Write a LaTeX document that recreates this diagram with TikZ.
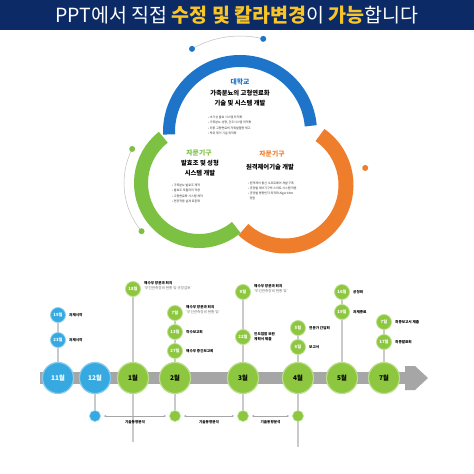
\documentclass[tikz,border=0pt]{standalone}
\usepackage{fontspec}
\setmainfont{Noto Sans CJK KR}
\usetikzlibrary{arrows.meta}
\usetikzlibrary{backgrounds}
\definecolor{navy}{HTML}{0B2A66}
\definecolor{gold}{HTML}{F8C426}
\definecolor{ringblue}{HTML}{1E74C8}
\definecolor{ringgreen}{HTML}{7CC142}
\definecolor{ringorange}{HTML}{EE7D2C}
\definecolor{dotblue}{HTML}{36A9E1}
\definecolor{dotgreen}{HTML}{8DC63F}
\definecolor{bargray}{HTML}{A6A6A6}
\definecolor{stemgray}{HTML}{CACACA}
\tikzstyle{headline}=[inner sep=0pt, text=white, font=\fontsize{19.5}{21}\selectfont]
\tikzstyle{ring head}=[inner sep=0pt, font=\fontsize{6.8}{7}\selectfont\bfseries]
\tikzstyle{ring task}=[inner sep=0pt, align=center, font=\fontsize{6.3}{10}\selectfont\bfseries]
\tikzstyle{ring list}=[inner sep=0pt, anchor=west, align=left, text=black!80, font=\fontsize{3}{5.5}\selectfont]
\tikzstyle{deco line}=[draw=black!25, line width=0.5pt]
\tikzstyle{deco dot}=[circle, minimum size=6pt, inner sep=0pt]
\tikzstyle{month}=[circle, minimum size=31pt, inner sep=0pt, line width=1.2pt, font=\fontsize{6.5}{7}\selectfont\bfseries]
\tikzstyle{blue month}=[month, fill=dotblue, draw=dotblue!60!white, text=white]
\tikzstyle{green month}=[month, fill=dotgreen, draw=dotgreen!60!white, text=black]
\tikzstyle{day}=[circle, minimum size=15pt, inner sep=0pt, line width=0.8pt, text=white, font=\fontsize{4.3}{5}\selectfont\bfseries]
\tikzstyle{blue day}=[day, fill=dotblue, draw=dotblue!55!white]
\tikzstyle{green day}=[day, fill=dotgreen, draw=dotgreen!55!white]
\tikzstyle{tick dot}=[circle, minimum size=11pt, inner sep=0pt, line width=0.6pt]
\tikzstyle{event}=[anchor=west, inner sep=0pt, align=left, font=\fontsize{3.6}{5}\selectfont\bfseries]
\tikzstyle{stem line}=[draw=stemgray, line width=1.2pt]
\tikzstyle{span arrow}=[draw=black!35, line width=0.4pt, {Stealth[length=2.5pt,width=2pt]}-{Stealth[length=2.5pt,width=2pt]}, shorten <=3pt, shorten >=3pt]
\tikzstyle{span label}=[inner sep=0pt, font=\fontsize{3.6}{4}\selectfont\bfseries]
\newcommand{\quoteline}[1]{\textcolor{black!55}{\mdseries #1}}

\begin{document}
\begin{tikzpicture}[x=1pt, y=-1pt]
  \useasboundingbox (0,0) rectangle (474,474);
  \fill[navy] (0,0) rectangle (474,30);
  \node[headline] (title) at (237,15.5) {PPT에서 직접 \textbf{\color{gold}수정 및 칼라변경}이 \textbf{\color{gold}가능}합니다};

  \coordinate (uni) at (240,132);
  \coordinate (fer) at (199,183);
  \coordinate (rem) at (285,185);
  \draw[ringblue, line width=12pt] (uni) ++(178:71) arc[start angle=178, end angle=355, radius=71];
  \draw[ringgreen, line width=14pt] (fer) ++(232:58) arc[start angle=232, end angle=50, radius=58];
  \draw[ringorange, line width=15pt] (rem) ++(-55:61) arc[start angle=-55, end angle=133, radius=61];
  \draw[deco line] (uni) ++(240:96) arc[start angle=240, end angle=284, radius=96];
  \draw[deco line] (fer) ++(207:75) arc[start angle=207, end angle=140, radius=75];
  \path (uni) ++(240:96) node[deco dot, fill=ringblue] (unidot1) {};
  \path (uni) ++(284:96) node[deco dot, fill=ringblue] (unidot2) {};
  \path (fer) ++(207:75) node[deco dot, fill=ringgreen] (ferdot1) {};
  \path (fer) ++(140:75) node[deco dot, fill=ringgreen] (ferdot2) {};
  \path (rem) ++(-12:82) node[deco dot, fill=ringorange] (remdot) {};

  \node[ring head, text=ringblue] (unihead) at (240,82) {대학교};
  \node[ring task] (unitask) at (240,98) {가축분뇨의 고형연료화\\기술 및 시스템 개발};
  \node[ring list] (unilist) at (208,125.5) {• 초기성 발효 시스템 최적화\\• 가축분뇨 성형, 건조시스템 최적화\\• 최종 고형연료의 저위발열량 제고\\• 악취 제거 기술 최적화};
  \node[ring head, text=ringgreen] (ferhead) at (199,153) {자문기구};
  \node[ring task] (fertask) at (200,168) {발효조 및 성형\\시스템 개발};
  \node[ring list] (ferlist) at (172,193.5) {• 가축분뇨 발효조 제작\\• 발효조 모듈러리 적용\\• 고형연료화 시스템 제작\\• 현장적용 설계 표준화};
  \node[ring head, text=ringorange] (remhead) at (272,154) {자문기구};
  \node[ring task] (remtask) at (270,167) {원격제어기술 개발};
  \node[ring list, font=\fontsize{3}{5}\selectfont] (remlist) at (248,190.5) {• 원격제어 통신 소프트웨어 개발 구축\\• 공정별 제어기구의 스마트 시스템 적용\\• 공정별 영향인자 최적화 Algorithm\\\ \ 정립};

  \node[blue month] (m11) at (58,378) {11월};
  \node[blue month] (m12) at (95,378) {12월};
  \node[green month] (m1) at (133,378) {1월};
  \node[green month] (m2) at (175,378) {2월};
  \node[green month] (m3) at (243,378) {3월};
  \node[green month] (m4) at (298,378) {4월};
  \node[green month] (m5) at (342,378) {5월};
  \node[green month] (m7) at (384,378) {7월};

  \node[blue day] (d11a) at (58,315) {19일};
  \node[blue day] (d11b) at (58,340) {23일};
  \node[green day] (d1a) at (133,289) {18일};
  \node[green day] (d2a) at (175,313) {7일};
  \node[green day] (d2b) at (175,332) {13일};
  \node[green day] (d2c) at (175,351) {27일};
  \node[green day] (d3a) at (243,292) {9일};
  \node[green day] (d3b) at (243,337) {22일};
  \node[green day] (d4a) at (298,328) {5일};
  \node[green day] (d4b) at (298,347) {6일};
  \node[green day] (d5a) at (342,292) {16일};
  \node[green day] (d5b) at (342,312) {19일};
  \node[green day] (d7a) at (384,322) {7일};
  \node[green day] (d7b) at (384,342) {17일};

  \node[event] (l11a) at (69,315) {과제시작};
  \node[event] (l11b) at (69,340) {과제시작};
  \node[event] (l1a) at (144,286) {해수부 방문과 회의\\\quoteline{‘무인관측장비 현황 및 규정검토’}};
  \node[event] (l2a) at (186,310) {해수부 방문과 회의\\\quoteline{‘무인관측장비 현황 및’}};
  \node[event] (l2b) at (186,332) {착수보고회};
  \node[event] (l2c) at (186,351) {해수부 중간보고회};
  \node[event] (l3a) at (254,289) {해수부 방문과 회의\\\quoteline{‘무인관측장비 현황 및’}};
  \node[event] (l3b) at (254,337) {인도접합 보완\\계획서 제출};
  \node[event] (l4a) at (309,328) {전문가 간담회};
  \node[event] (l4b) at (309,347) {보고서};
  \node[event] (l5a) at (353,292) {공청회};
  \node[event] (l5b) at (353,312) {과제종료};
  \node[event] (l7a) at (395,322) {최종보고서 제출};
  \node[event] (l7b) at (395,342) {최종발표회};

  \node[tick dot, fill=dotblue, draw=dotblue!55!white] (t12) at (95,416) {};
  \node[tick dot, fill=dotgreen, draw=dotgreen!55!white] (t2) at (175,416) {};
  \node[tick dot, fill=dotgreen, draw=dotgreen!55!white] (t3) at (243,416) {};
  \node[tick dot, fill=dotgreen, draw=dotgreen!55!white] (t4) at (298,416) {};
  \coordinate (b1) at (133,442);
  \coordinate (b4) at (298,447);

  \draw[span arrow] (t12) -- node[span label, below=4.5pt] (s1) {기술동향분석} (t2);
  \draw[span arrow] (t2) -- node[span label, below=4.5pt] (s2) {기술동향분석} (t3);
  \draw[span arrow] (t3) -- node[span label, below=4.5pt] (s3) {기술동향분석} (t4);

  \begin{scope}[on background layer]
    \fill[white] (0,0) rectangle (474,474);
    \fill[bargray] (40,372) rectangle (410,384);
    \fill[bargray] (405,366) -- (415,366) -- (428,378) -- (415,390) -- (405,390) -- cycle;
    \draw[stem line] (m11) -- (d11a);
    \draw[stem line] (m1) -- (d1a);
    \draw[stem line] (m2) -- (d2a);
    \draw[stem line] (m3) -- (d3a);
    \draw[stem line] (m4) -- (d4a);
    \draw[stem line] (m5) -- (d5a);
    \draw[stem line] (m7) -- (d7a);
    \draw[stem line] (m12) -- (t12);
    \draw[stem line] (m1) -- (b1);
    \draw[stem line] (m2) -- (t2);
    \draw[stem line] (m3) -- (t3);
    \draw[stem line] (m4) -- (b4);
  \end{scope}
\end{tikzpicture}
\end{document}
